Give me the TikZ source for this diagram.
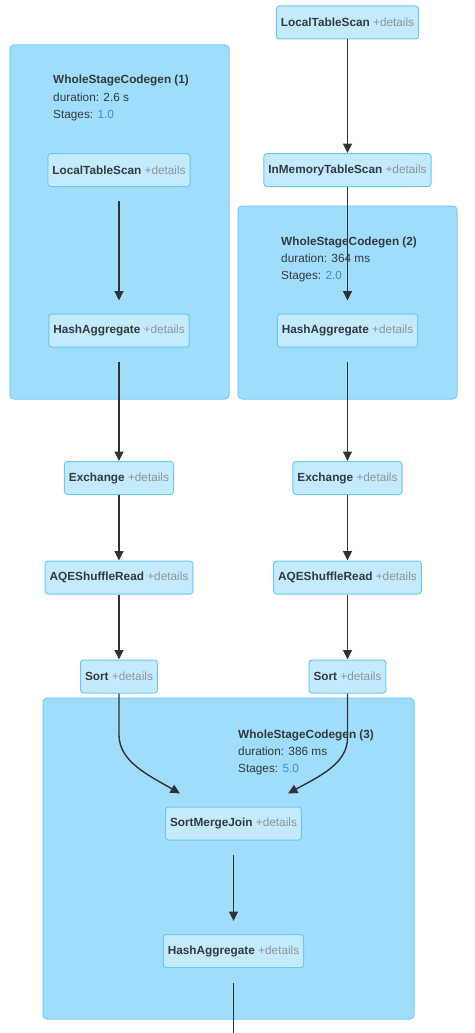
\documentclass[tikz,border=0pt]{standalone}
\usepackage{fontspec}
\setmainfont{Liberation Sans}
\usetikzlibrary{arrows.meta}
\definecolor{clfill}{HTML}{A0DDFB}
\definecolor{clborder}{HTML}{74CBF4}
\definecolor{nodefill}{HTML}{C4EBFD}
\definecolor{nodeborder}{HTML}{6CC8F0}
\definecolor{txt}{HTML}{333A40}
\definecolor{detailcol}{HTML}{8E9499}
\definecolor{linkcol}{HTML}{3C8DD6}
\definecolor{edgecol}{HTML}{2E3338}
\newcommand{\opl}[1]{\textbf{#1} \textcolor{detailcol}{+details}}
\tikzset{
  op/.style={draw=nodeborder, fill=nodefill, rounded corners=3pt, line width=1pt,
    minimum height=33pt, inner xsep=4.5pt, inner ysep=0pt,
    font=\fontsize{11.8}{14}\selectfont, text=txt},
  cluster/.style={draw=clborder, fill=clfill, rounded corners=4pt, line width=1pt},
  cllabel/.style={anchor=base west, inner sep=0pt, font=\fontsize{11.8}{14}\selectfont, text=txt},
  edge/.style={draw=edgecol, line width=1.4pt, -{Triangle[width=9pt,length=9.5pt]}},
  plainedge/.style={draw=edgecol, line width=1.4pt},
}
\begin{document}
\begin{tikzpicture}[x=1pt,y=-1pt]
\useasboundingbox[fill=white] (0,0) rectangle (474,1033);
% clusters
\draw[cluster] (10,45) rectangle (229,399);
\draw[cluster] (238,206) rectangle (457,399);
\draw[cluster] (43,698) rectangle (414,1019);
% cluster labels
\node[cllabel] (c1a) at (53,84) {\textbf{WholeStageCodegen (1)}};
\node[cllabel] (c1b) at (53,101) {duration: 2.6 s};
\node[cllabel] (c1c) at (53,118) {Stages: \textcolor{linkcol}{1.0}};
\node[cllabel] (c2a) at (281,245) {\textbf{WholeStageCodegen (2)}};
\node[cllabel] (c2b) at (281,262) {duration: 364 ms};
\node[cllabel] (c2c) at (281,279) {Stages: \textcolor{linkcol}{2.0}};
\node[cllabel] (c3a) at (238,738) {\textbf{WholeStageCodegen (3)}};
\node[cllabel] (c3b) at (238,755) {duration: 386 ms};
\node[cllabel] (c3c) at (238,772) {Stages: \textcolor{linkcol}{5.0}};
% nodes
\node[op] (ltstop) at (347.5,22.5) {\opl{LocalTableScan}};
\node[op] (lts1) at (119,170) {\opl{LocalTableScan}};
\node[op] (imts) at (347.5,170) {\opl{InMemoryTableScan}};
\node[op] (ha1) at (119,330.5) {\opl{HashAggregate}};
\node[op] (ha2) at (347.5,330.5) {\opl{HashAggregate}};
\node[op] (ex1) at (119,478) {\opl{Exchange}};
\node[op] (ex2) at (347.5,478) {\opl{Exchange}};
\node[op] (aqe1) at (119,577.5) {\opl{AQEShuffleRead}};
\node[op] (aqe2) at (347.5,577.5) {\opl{AQEShuffleRead}};
\node[op] (sort1) at (119,676.5) {\opl{Sort}};
\node[op] (sort2) at (347.5,676.5) {\opl{Sort}};
\node[op] (smj) at (233.5,823.5) {\opl{SortMergeJoin}};
\node[op] (ha3) at (233.5,951) {\opl{HashAggregate}};
\coordinate (out) at (233.5,1033);
% edges
\draw[edge] (ltstop.south) -- (imts.north);
\draw[edge, shorten <=14pt, shorten >=13pt] (lts1.south) -- (ha1.north);
\draw[edge, shorten >=13pt] (imts.south) -- (ha2.north);
\draw[edge, shorten <=14pt] (ha1.south) -- (ex1.north);
\draw[edge, shorten <=14pt] (ha2.south) -- (ex2.north);
\draw[edge] (ex1.south) -- (aqe1.north);
\draw[edge] (ex2.south) -- (aqe2.north);
\draw[edge] (aqe1.south) -- (sort1.north);
\draw[edge] (aqe2.south) -- (sort2.north);
\draw[edge] (sort1.south) -- (119,735) .. controls (119,762) and (150,776) .. ([xshift=-53.5pt,yshift=13pt]smj.north);
\draw[edge] (sort2.south) -- (347.5,738) .. controls (347.5,764) and (318,777) .. ([xshift=54.5pt,yshift=13pt]smj.north);
\draw[edge, shorten <=14pt, shorten >=13pt] (smj.south) -- (ha3.north);
\draw[plainedge, shorten <=15pt] (ha3.south) -- (out);
\end{tikzpicture}
\end{document}
